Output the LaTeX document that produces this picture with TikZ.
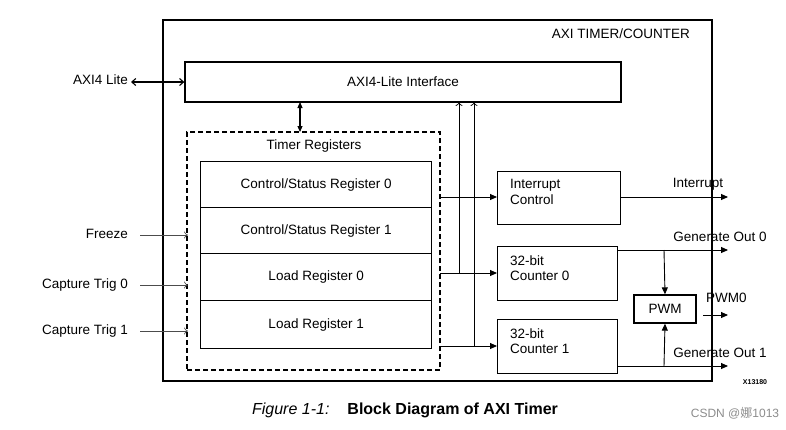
\documentclass[tikz,border=0pt]{standalone}
\usepackage{fontspec}
\setmainfont{Liberation Sans}
\newfontfamily\cjk{Noto Sans CJK SC}
\usetikzlibrary{arrows.meta}
\begin{document}
\begin{tikzpicture}[x=1pt,y=-1pt,
  box/.style={draw,line width=1.3pt,inner sep=0},
  txt/.style={font=\fontsize{13.5}{15.5}\selectfont,inner sep=0},
  sig/.style={line width=0.9pt,-{Triangle[length=7pt,width=6pt]}},
  inp/.style={draw=black!70,line width=0.6pt,-{To[length=4pt,width=7pt]}},
]
\useasboundingbox[fill=white] (0,0) rectangle (786,429);
\draw[line width=1.5pt] (163,20) rectangle (712,381);
\node[txt,anchor=east] (title) at (690,34) {AXI TIMER/COUNTER};
\node[box,minimum width=436pt,minimum height=40pt] (axi) at (403,82) {};
\node[txt] (axit) at (axi.center) {AXI4-Lite Interface};
\node[txt,anchor=east] (axil) at (128,80) {AXI4 Lite};
\draw[line width=1.1pt,{Straight Barb[length=4pt,width=7pt]}-{Straight Barb[length=4pt,width=7pt]}] (axil.east) ++(3,2) coordinate (al) -- (al -| axi.west);
\node[draw,dash pattern=on 5pt off 3pt,line width=1.2pt,minimum width=253pt,minimum height=238pt,inner sep=0] (tr) at (313.5,251) {};
\draw[line width=1.1pt,{Triangle[length=6pt,width=5pt]}-{Triangle[length=6pt,width=5pt]}] (300,102) -- (300,132);
\node[txt] (trt) at (314,146) {Timer Registers};
\foreach \i/\a/\b/\t in {0/161/207/{Control/Status Register 0},1/207/253/{Control/Status Register 1},2/253/300/{Load Register 0},3/300/348/{Load Register 1}}{
  \node[box,minimum width=231pt,minimum height={(\b-\a)*1pt},anchor=north west] (r\i) at (200,\a) {};
  \node[txt] at (r\i.center) {\t};
}
\node[txt,anchor=east] (fr) at (128,234) {Freeze};
\node[txt,anchor=east] (c0) at (128,285) {Capture Trig 0};
\node[txt,anchor=east] (c1) at (128,331) {Capture Trig 1};
\draw[inp] (140,235) -- (188,235);
\draw[inp] (140,285) -- (188,285);
\draw[inp] (140,331) -- (188,331);
\node[box,minimum width=123pt,minimum height=53pt,anchor=north west] (ic) at (497,171) {};
\node[txt,align=left,anchor=west] at (510,192) {Interrupt\\Control};
\node[box,minimum width=120pt,minimum height=54pt,anchor=north west] (k0) at (497,246) {};
\node[txt,align=left,anchor=west] at (510,268) {32-bit\\Counter 0};
\node[box,minimum width=120pt,minimum height=54pt,anchor=north west] (k1) at (497,319) {};
\node[txt,align=left,anchor=west] at (510,341) {32-bit\\Counter 1};
\node[box,minimum width=62pt,minimum height=28pt] (pwm) at (665,309) {};
\node[txt] at (pwm.center) {PWM};
\draw[sig] (440,197) -- (ic.west |- 0,197);
\draw[sig] (440,273) -- (k0.west |- 0,273);
\draw[sig] (440,346) -- (k1.west |- 0,346);
\draw[line width=0.7pt,-{To[length=4pt,width=7pt]}] (459,273) -- (459,102);
\draw[line width=0.7pt,-{To[length=4pt,width=7pt]}] (474,346) -- (474,102);
\draw[sig] (ic.east |- 0,197) -- (728,197);
\node[txt] at (698,184) {Interrupt};
\draw[sig] (617,250) -- (728,250);
\node[txt] at (720,237) {Generate Out 0};
\draw[sig] (617,366) -- (728,366);
\node[txt] at (720,353) {Generate Out 1};
\draw[sig] (664,250) -- (pwm.north);
\draw[sig] (664,366) -- (pwm.south);
\draw[sig] (703,315) -- (728,315);
\node[txt,anchor=west] at (706,298) {PWM0};
\node[font=\fontsize{7}{8}\selectfont\bfseries,inner sep=0] at (755,382) {X13180};
\node[inner sep=0,font=\fontsize{16}{18}\selectfont] at (405,410) {\textit{Figure 1-1:}\hspace{18pt}\textbf{Block Diagram of AXI Timer}};
\node[inner sep=0,text=black!45,font=\fontsize{12}{14}\selectfont] at (735,413) {CSDN @{\cjk 娜}1013};
\end{tikzpicture}
\end{document}
